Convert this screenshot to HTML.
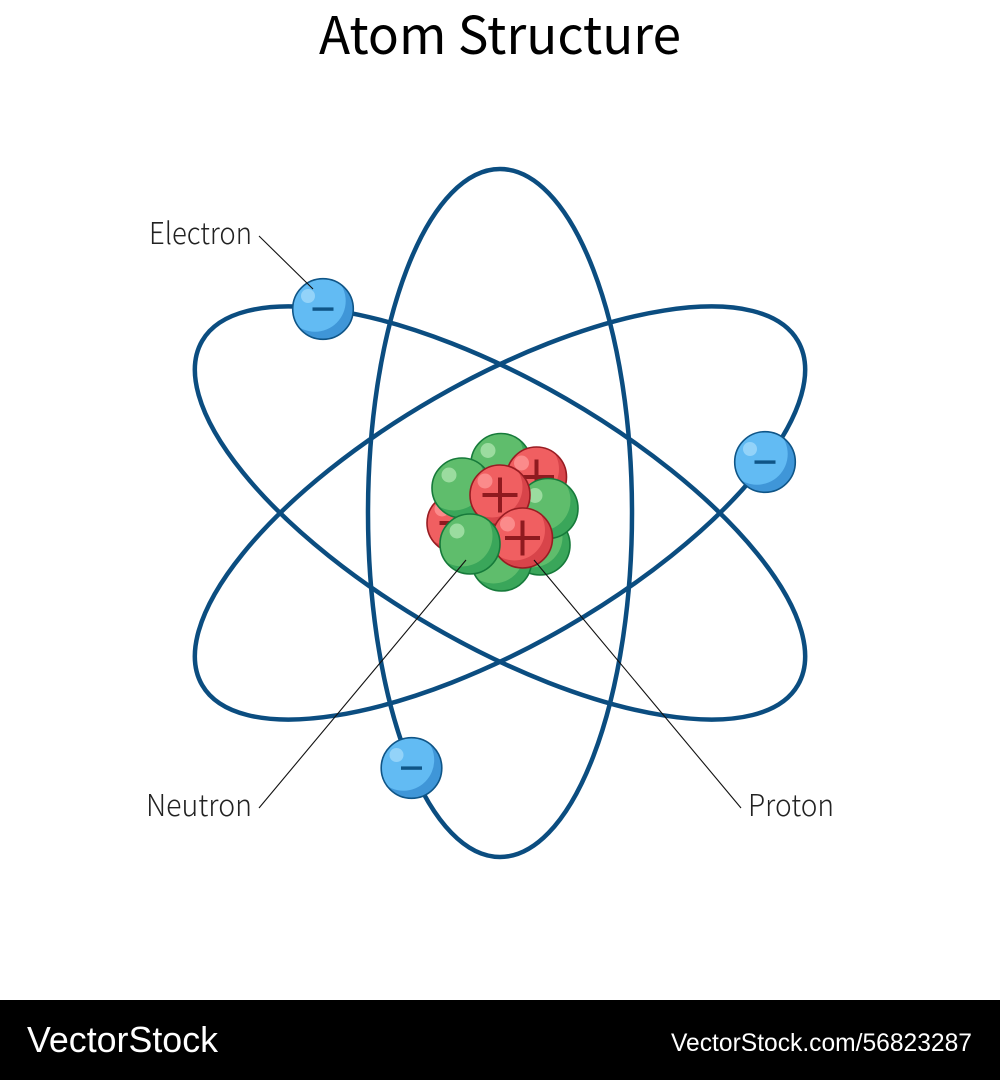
<!DOCTYPE html>
<html><head><meta charset="utf-8"><style>
html,body{margin:0;padding:0;background:#fff;width:1000px;height:1080px;overflow:hidden}
svg{display:block}
</style></head><body>
<svg width="1000" height="1080" viewBox="0 0 1000 1080" xmlns="http://www.w3.org/2000/svg">
<defs>
<clipPath id="c"><circle r="30"/></clipPath>
<g id="g"><circle r="30" fill="#3aa65a"/><g clip-path="url(#c)"><circle cx="-8" cy="-8" r="30.5" fill="#5fbd6c"/></g><circle r="30" fill="none" stroke="#167a3a" stroke-width="1.6"/><circle cx="-13" cy="-13" r="7.5" fill="#9bdc9f"/></g>
<g id="r"><circle r="30" fill="#d8444a"/><g clip-path="url(#c)"><circle cx="-8" cy="-8" r="30.5" fill="#f05f61"/></g><circle r="30" fill="none" stroke="#981c22" stroke-width="1.6"/><circle cx="-15" cy="-14" r="7.5" fill="#fb8b8b"/><path d="M-17.5 0H17.5M0 -17.5V17.5" stroke="#8f1a1f" stroke-width="4" fill="none"/></g>
<g id="e"><circle r="30.3" fill="#3f96d8"/><g clip-path="url(#c)"><circle cx="-8" cy="-8" r="30.7" fill="#62bbf3"/></g><circle r="30.3" fill="none" stroke="#0f5587" stroke-width="1.6"/><circle cx="-15" cy="-13" r="7" fill="#93d3f9"/><rect x="-10.500" y="-1.6" width="21" height="3.4" fill="#0f5587"/></g>
</defs>
<rect width="1000" height="1080" fill="#fff"/>
<text x="500" y="54" text-anchor="middle" font-family="'Noto Sans CJK JP','DejaVu Sans',sans-serif" font-size="52" fill="#000" textLength="362" lengthAdjust="spacingAndGlyphs">Atom Structure</text>
<g fill="none" stroke="#0b4d80" stroke-width="4.5">
<ellipse cx="500" cy="513" rx="132" ry="344"/>
<ellipse cx="500" cy="513" rx="132" ry="344" transform="rotate(60 500 513)"/>
<ellipse cx="500" cy="513" rx="132" ry="344" transform="rotate(-60 500 513)"/>
</g>
<use href="#g" x="501" y="463.5"/>
<use href="#r" x="536.5" y="477"/>
<use href="#g" x="540" y="545"/>
<use href="#g" x="501.5" y="561"/>
<use href="#r" x="457" y="523"/>
<use href="#g" x="548" y="508.5"/>
<use href="#g" x="462" y="488"/>
<use href="#r" x="500" y="495"/>
<use href="#r" x="522.5" y="538"/>
<use href="#g" x="470" y="544"/>
<use href="#e" x="323" y="309"/>
<use href="#e" x="765" y="462"/>
<use href="#e" x="411.5" y="768"/>
<g stroke="#111" stroke-width="1.1" fill="none">
<path d="M259 236L313 289"/>
<path d="M259 808L466 560"/>
<path d="M741 808L534 560"/>
</g>
<g font-family="'Noto Sans CJK JP','Liberation Sans',sans-serif" font-size="30" font-weight="300" fill="#222">
<text x="149" y="244" textLength="103" lengthAdjust="spacingAndGlyphs">Electron</text>
<text x="146" y="816" textLength="106" lengthAdjust="spacingAndGlyphs">Neutron</text>
<text x="748" y="816" textLength="86" lengthAdjust="spacingAndGlyphs">Proton</text>
</g>
<rect x="0" y="1000" width="1000" height="80" fill="#000"/>
<g font-family="'Liberation Sans',sans-serif" fill="#fff">
<text x="27" y="1052" font-size="36" textLength="191" lengthAdjust="spacingAndGlyphs">VectorStock</text>
<text x="671" y="1051" font-size="25" textLength="301" lengthAdjust="spacingAndGlyphs">VectorStock.com/56823287</text>
</g>
</svg>
</body></html>
